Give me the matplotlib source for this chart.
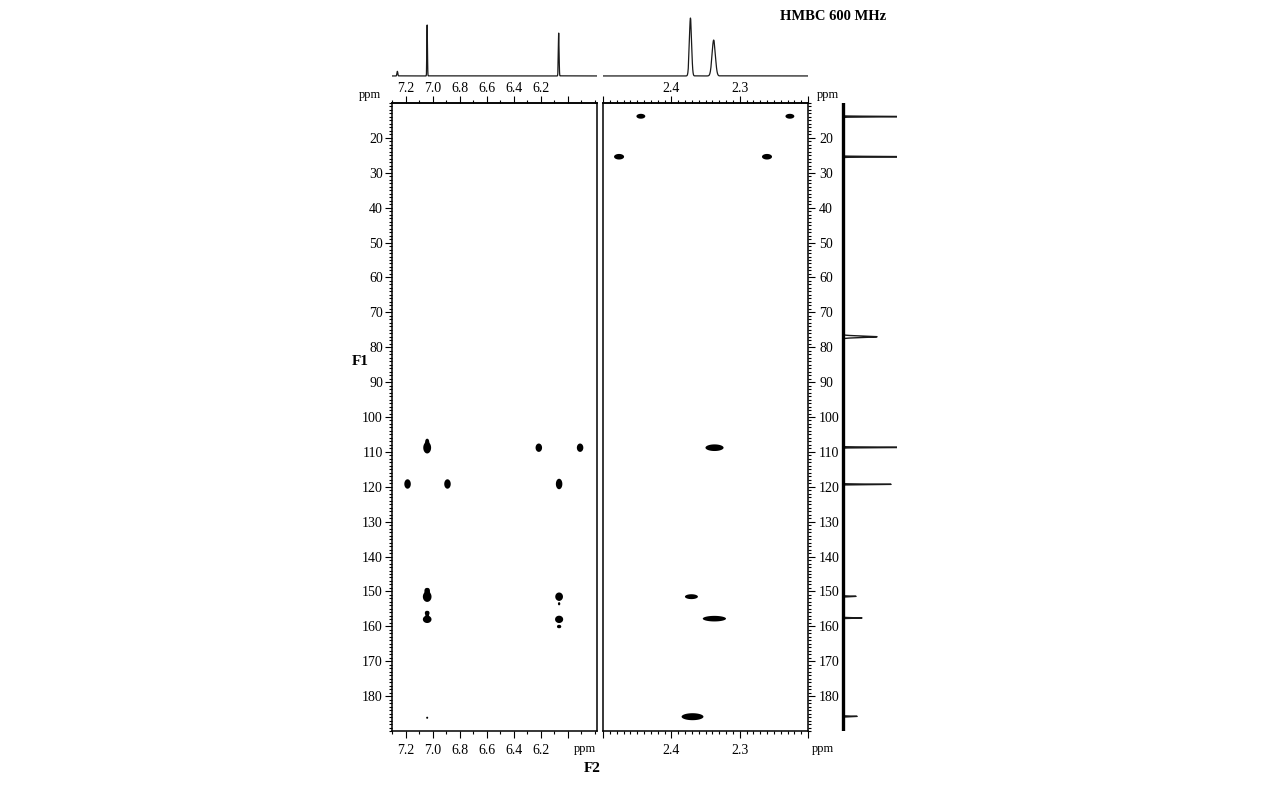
import numpy as np
import matplotlib
matplotlib.use("Agg")
import matplotlib.pyplot as plt
from matplotlib.ticker import FixedLocator, FuncFormatter

plt.rcParams['font.family'] = ['Liberation Serif', 'DejaVu Serif']

# 1H projection (top)
h1_shift = [7.26, 7.04, 6.068, 2.372, 2.338]
h1_height = [0.08, 0.88, 0.74, 1.0, 0.62]
h1_sig = [0.003, 0.0022, 0.0028, 0.0016, 0.0024]

# 13C projection (right)
c13_shift = [13.9, 25.4, 77.0, 108.7, 119.3, 151.4, 157.6, 185.8]
c13_height = [1.5, 1.5, 0.63, 1.5, 0.89, 0.24, 0.35, 0.26]
c13_sig = [0.07, 0.07, 0.2, 0.07, 0.07, 0.07, 0.07, 0.07]

# cross peaks, aromatic region (F2 ppm, F1 ppm, full widths)
left_f2 = [7.04, 7.04, 7.185, 6.89, 6.215, 5.91, 6.065, 7.04, 7.047, 7.033,
           7.04, 7.047, 7.033, 6.065, 6.065, 6.065, 6.059, 6.071, 7.04]
left_f1 = [108.8, 106.8, 119.2, 119.2, 108.8, 108.8, 119.2, 151.5, 149.6, 149.6,
           158.0, 156.1, 156.1, 151.5, 153.6, 158.0, 160.1, 160.1, 186.2]
left_w2 = [0.058, 0.018, 0.048, 0.048, 0.048, 0.048, 0.048, 0.064, 0.018, 0.018,
           0.064, 0.018, 0.018, 0.057, 0.015, 0.06, 0.018, 0.018, 0.015]
left_w1 = [3.3, 0.9, 2.7, 2.7, 2.4, 2.4, 3.0, 3.0, 0.9, 0.9,
           2.1, 0.9, 0.9, 2.4, 0.7, 2.1, 0.7, 0.7, 0.6]

# cross peaks, aliphatic region
right_f2 = [2.4446, 2.2265, 2.4765, 2.260, 2.3368, 2.3706, 2.337, 2.369]
right_f1 = [13.8, 13.8, 25.4, 25.4, 108.8, 151.5, 157.8, 185.9]
right_w2 = [0.013, 0.013, 0.0147, 0.0147, 0.0265, 0.019, 0.034, 0.032]
right_w1 = [1.4, 1.4, 1.6, 1.6, 1.9, 1.4, 1.6, 2.0]

left_xlim = (7.30, 5.785)
right_xlim = (2.50, 2.20)
f1_lim = (190, 10)

W, H = 1284, 810
fig = plt.figure(figsize=(W / 100, H / 100), dpi=100)


def box(x0, y0, x1, y1):
    return [x0 / W, 1 - y1 / H, (x1 - x0) / W, (y1 - y0) / H]


axL = fig.add_axes(box(392, 103, 597, 731))
axR = fig.add_axes(box(603, 103, 808, 731))
axTL = fig.add_axes(box(392, 14, 597, 80))
axTR = fig.add_axes(box(603, 14, 808, 80))
axP = fig.add_axes(box(841, 103, 897, 731))


def cross_peaks(ax, xlim, f2, f1, w2, w1, nx):
    x = np.linspace(min(xlim), max(xlim), nx)
    y = np.linspace(10, 190, 2000)
    X, Y = np.meshgrid(x, y)
    Z = np.zeros_like(X)
    for a, b, wa, wb in zip(f2, f1, w2, w1):
        Z += np.exp(-np.log(2) * (((X - a) / (wa / 2)) ** 2 + ((Y - b) / (wb / 2)) ** 2))
    ax.contourf(X, Y, Z, levels=[0.5, 1e3], colors='black', antialiased=True)


cross_peaks(axL, left_xlim, left_f2, left_f1, left_w2, left_w1, 1300)
cross_peaks(axR, right_xlim, right_f2, right_f1, right_w2, right_w1, 900)

tick_kw = dict(direction='out', width=0.8, labelsize=10, colors='black')


def x_ticks(axis_obj, major, minor, fmt):
    axis_obj.set_major_locator(FixedLocator(major))
    axis_obj.set_minor_locator(FixedLocator(minor))
    axis_obj.set_major_formatter(FuncFormatter(fmt))


left_major = np.arange(6.0, 7.21, 0.2)
left_minor = np.arange(5.8, 7.31, 0.1)
left_fmt = lambda v, p: "" if v < 6.1 else f"{v:.1f}"
right_major = [2.2, 2.3, 2.4, 2.5]
right_minor = np.arange(2.20, 2.501, 0.01)
right_fmt = lambda v, p: f"{v:.1f}" if 2.25 < v < 2.45 else ""

for ax, xlim, major, minor, fmt in ((axL, left_xlim, left_major, left_minor, left_fmt),
                                    (axR, right_xlim, right_major, right_minor, right_fmt)):
    ax.set_xlim(*xlim)
    ax.set_ylim(*f1_lim)
    for s in ax.spines.values():
        s.set_linewidth(1.1)
    x_ticks(ax.xaxis, major, minor, fmt)
    ax.tick_params(axis='x', which='both', top=False, bottom=True,
                   labeltop=False, labelbottom=True, pad=4, **tick_kw)
    ax.tick_params(axis='x', which='major', length=5)
    ax.tick_params(axis='x', which='minor', length=2.5)
    sec = ax.secondary_xaxis('top')
    sec.spines['top'].set_linewidth(1.1)
    x_ticks(sec.xaxis, major, minor, fmt)
    sec.tick_params(axis='x', which='both', pad=0.5, **tick_kw)
    sec.tick_params(axis='x', which='major', length=5)
    sec.tick_params(axis='x', which='minor', length=2.5)

# y ticks
ymaj = np.arange(20, 181, 10)
ymin = np.arange(10, 191, 1)
for ax, side in ((axL, 'left'), (axR, 'right')):
    ax.yaxis.set_major_locator(FixedLocator(ymaj))
    ax.yaxis.set_minor_locator(FixedLocator(ymin))
    ax.yaxis.set_major_formatter(FuncFormatter(lambda v, p: f"{v:.0f}"))
    ax.tick_params(axis='y', which='both', left=(side == 'left'), right=(side == 'right'),
                   labelleft=(side == 'left'), labelright=(side == 'right'),
                   pad=1.5 if side == 'left' else 3, **tick_kw)
    ax.tick_params(axis='y', which='major', length=5)
    ax.tick_params(axis='y', which='minor', length=2.5)

# 1H projection
for ax, xlim in ((axTL, left_xlim), (axTR, right_xlim)):
    x = np.linspace(min(xlim), max(xlim), 8000)
    spec = np.zeros_like(x)
    for s0, h, sg in zip(h1_shift, h1_height, h1_sig):
        spec += h * np.exp(-0.5 * ((x - s0) / sg) ** 2)
    ax.plot(x, spec, color='#1a1a1a', lw=0.9)
    ax.set_xlim(*xlim)
    ax.set_ylim(-0.07, 1.07)
    ax.axis('off')

# 13C projection
yc = np.linspace(10, 190, 30000)
cspec = np.zeros_like(yc)
for s0, h, sg in zip(c13_shift, c13_height, c13_sig):
    cspec += h * np.exp(-0.5 * ((yc - s0) / sg) ** 2)
axP.plot(cspec, yc, color='#1a1a1a', lw=1.0)
axP.axvline(0, color='black', lw=2.4)
axP.set_xlim(-0.04, 1.0)
axP.set_ylim(*f1_lim)
axP.axis('off')

# labels
fig.text(370 / W, 1 - 95 / H, "ppm", ha='center', va='center', fontsize=9)
fig.text(828 / W, 1 - 95 / H, "ppm", ha='center', va='center', fontsize=9)
fig.text(585 / W, 1 - 749 / H, "ppm", ha='center', va='center', fontsize=9)
fig.text(823 / W, 1 - 749 / H, "ppm", ha='center', va='center', fontsize=9)
fig.text(592 / W, 1 - 768 / H, "F2", ha='center', va='center', fontsize=11, fontweight='bold')
fig.text(360 / W, 1 - 362 / H, "F1", ha='center', va='center', fontsize=11, fontweight='bold')
fig.text(833 / W, 1 - 17 / H, "HMBC 600 MHz", ha='center', va='center', fontsize=10.5, fontweight='bold')

fig.savefig("out.png", dpi=100)
